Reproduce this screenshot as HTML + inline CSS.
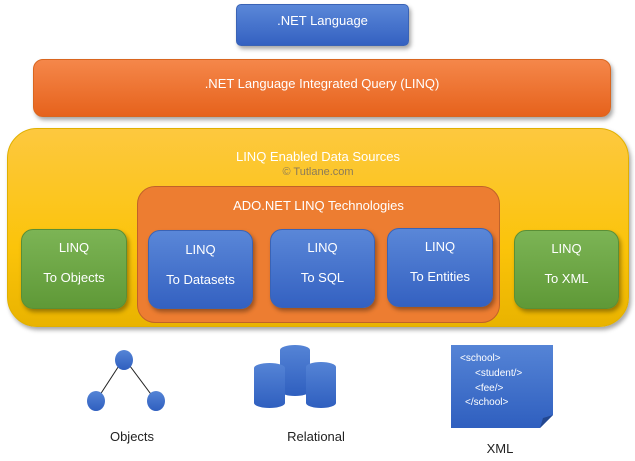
<!DOCTYPE html>
<html><head><style>
body{margin:0;width:635px;height:461px;background:#fff;position:relative;overflow:hidden;font-family:"Liberation Sans",sans-serif}
.b{position:absolute;box-sizing:border-box;color:#fff;text-align:center;font-size:13px;box-shadow:2px 3px 4px rgba(0,0,0,.35)}
.blue{background:linear-gradient(#5a87d8,#3461c1);border:1px solid #3a63b5;border-radius:12px}
.green{background:linear-gradient(#7cb455,#5f9937);border:1px solid #5a8f36;border-radius:12px}
.t{position:absolute;left:0;right:0}
.lbl{position:absolute;font-size:13px;color:#222;transform:translateX(-50%)}
</style></head><body>
<div class="b blue" style="left:236px;top:4px;width:173px;height:42px;border-radius:5px;line-height:32px">.NET Language</div>
<div class="b" style="left:33px;top:59px;width:578px;height:58px;border-radius:10px;background:linear-gradient(#f5874a,#e6621c);border:1px solid #d9661f;line-height:48px">.NET Language Integrated Query (LINQ)</div>
<div class="b" style="left:7px;top:128px;width:622px;height:199px;border-radius:30px;background:linear-gradient(#fdc83f,#fbc40a 60%,#e9b300);border:1px solid #e0b000">
<div class="t" style="top:20px">LINQ Enabled Data Sources</div>
<div class="t" style="top:37px;color:#8a7a5a;font-size:11px">© Tutlane.com</div>
</div>
<div class="b" style="left:137px;top:186px;width:363px;height:137px;border-radius:18px;background:#ed7d31;border:1px solid #c0622a;box-shadow:none">
<div class="t" style="top:11px">ADO.NET LINQ Technologies</div></div>
<div class="b green" style="left:21px;top:229px;width:106px;height:80px"><div class="t" style="top:10px">LINQ</div><div class="t" style="top:40px">To Objects</div></div>
<div class="b blue" style="left:148px;top:230px;width:105px;height:79px"><div class="t" style="top:11px">LINQ</div><div class="t" style="top:41px">To Datasets</div></div>
<div class="b blue" style="left:270px;top:229px;width:105px;height:79px"><div class="t" style="top:10px">LINQ</div><div class="t" style="top:40px">To SQL</div></div>
<div class="b blue" style="left:387px;top:228px;width:106px;height:79px"><div class="t" style="top:10px">LINQ</div><div class="t" style="top:40px">To Entities</div></div>
<div class="b green" style="left:514px;top:230px;width:105px;height:79px"><div class="t" style="top:10px">LINQ</div><div class="t" style="top:40px">To XML</div></div>
<svg width="635" height="461" style="position:absolute;left:0;top:0">
<defs><linearGradient id="g" x1="0" y1="0" x2="0" y2="1"><stop offset="0" stop-color="#5584d6"/><stop offset="1" stop-color="#2f5fbf"/></linearGradient></defs>
<line x1="124" y1="358" x2="96" y2="401" stroke="#222"/><line x1="124" y1="358" x2="156" y2="401" stroke="#222"/>
<ellipse cx="124" cy="360" rx="9" ry="10" fill="url(#g)"/>
<ellipse cx="96" cy="401" rx="9" ry="10" fill="url(#g)"/>
<ellipse cx="156" cy="401" rx="9" ry="10" fill="url(#g)"/>
<g fill="url(#g)">
<path d="M280,350 a15,5 0 0 1 30,0 v41 a15,5 0 0 1 -30,0z"/>
<path d="M254,368 a15.5,5 0 0 1 31,0 v35 a15.5,5 0 0 1 -31,0z"/>
<path d="M306,367 a15,5 0 0 1 30,0 v36 a15,5 0 0 1 -30,0z"/>
<path d="M451,345 h102 v70 l-13,13 h-89z"/>
</g>
<path d="M540,428 l13,-13 l-10,3z" fill="#23478f"/>
<g fill="#fff" font-size="10" font-family="Liberation Sans,sans-serif">
<text x="460" y="361">&lt;school&gt;</text>
<text x="475" y="376">&lt;student/&gt;</text>
<text x="475" y="391">&lt;fee/&gt;</text>
<text x="465" y="405">&lt;/school&gt;</text>
</g>
</svg>
<div class="lbl" style="left:132px;top:429px">Objects</div>
<div class="lbl" style="left:316px;top:429px">Relational</div>
<div class="lbl" style="left:500px;top:441px">XML</div>
</body></html>
